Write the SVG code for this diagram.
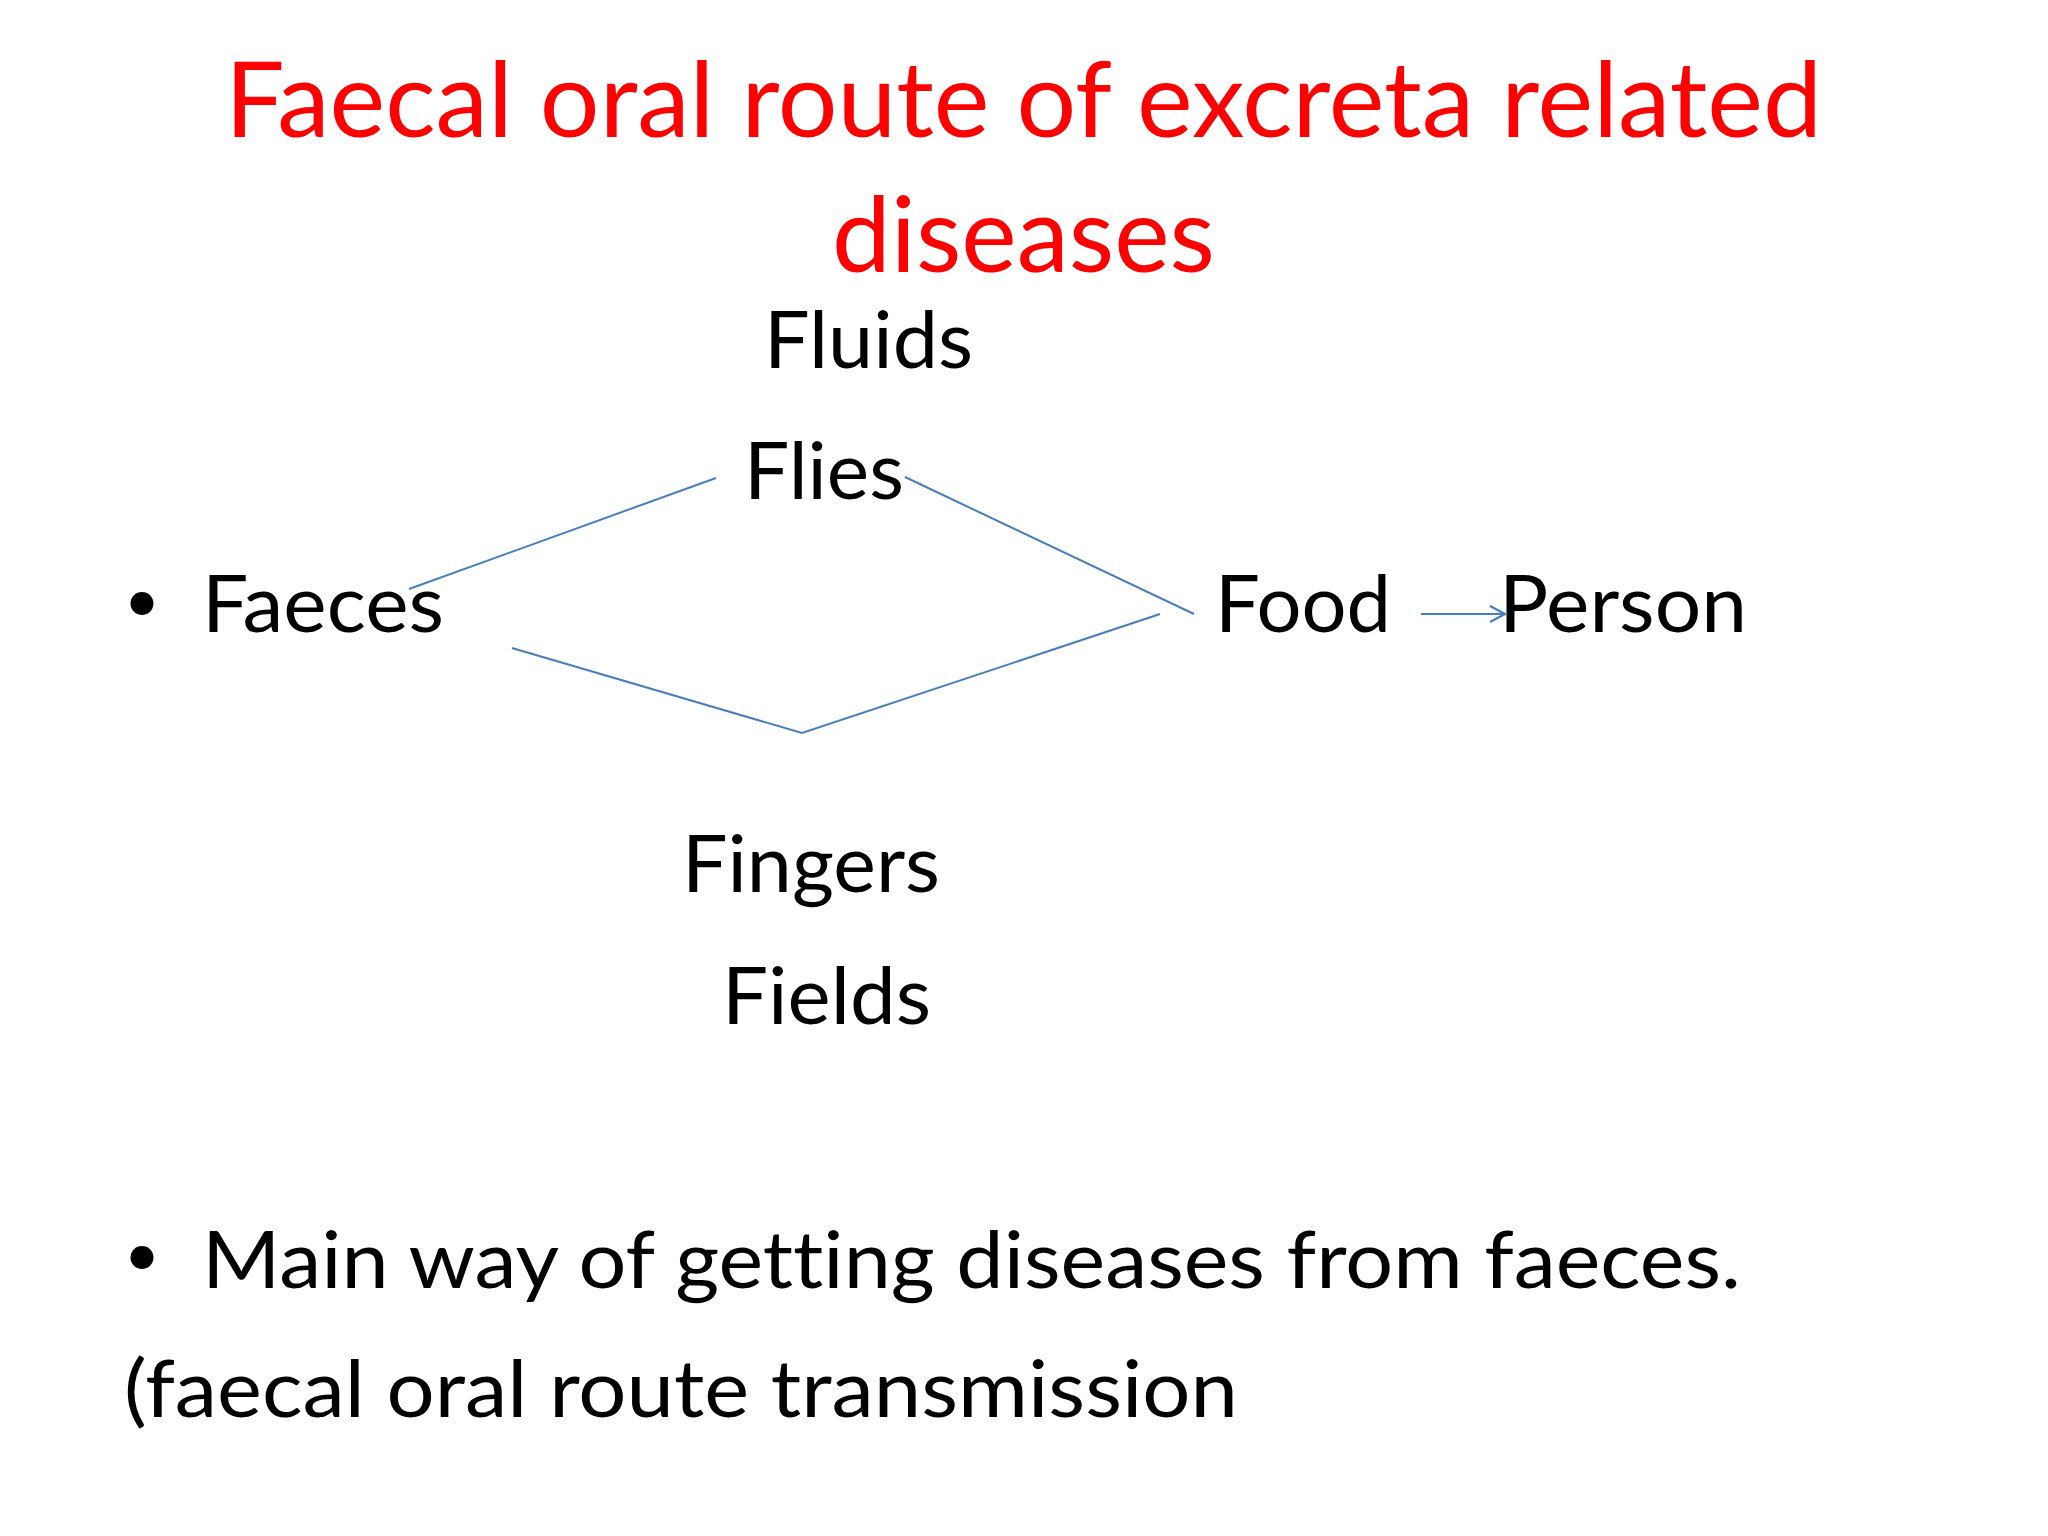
<svg xmlns="http://www.w3.org/2000/svg" width="2048" height="1536" viewBox="0 0 2048 1536">
<style>
.t{font-family:Lato,"Open Sans","Liberation Sans",sans-serif;font-variant-ligatures:none;}
.title{fill:#FF0000;font-size:104px;}
.body{fill:#000000;font-size:80px;}
.bul{fill:#000000;font-size:62px;}
.ln{stroke:#4A7EBB;stroke-width:2;fill:none;}
</style>
<defs>
<marker id="arr" viewBox="0 0 20 20" refX="19" refY="10" markerWidth="20" markerHeight="20" markerUnits="userSpaceOnUse" orient="auto">
<path d="M4,2 L19,10 L4,18" fill="none" stroke="#4A7EBB" stroke-width="2.2"/>
</marker>
</defs>
<rect width="2048" height="1536" fill="#FFFFFF"/>
<g id="title">
<text class="t title" x="225" y="137" textLength="1597" lengthAdjust="spacingAndGlyphs">Faecal oral route of excreta related</text>
<text class="t title" x="832" y="272" textLength="383" lengthAdjust="spacingAndGlyphs">diseases</text>
</g>
<g id="connectors">
<line class="ln" x1="409" y1="589" x2="716" y2="478"/>
<line class="ln" x1="905" y1="477" x2="1194" y2="614"/>
<polyline class="ln" points="512,648 802,733 1160,614"/>
<line class="ln" x1="1421" y1="614" x2="1505" y2="614" marker-end="url(#arr)"/>
</g>
<g id="node-fluids"><text class="t body" x="764" y="368" textLength="209" lengthAdjust="spacingAndGlyphs">Fluids</text></g>
<g id="node-flies"><text class="t body" x="744" y="499" textLength="160" lengthAdjust="spacingAndGlyphs">Flies</text></g>
<g id="node-faeces"><text class="t bul" x="124" y="622">•</text><text class="t body" x="202" y="632" textLength="242" lengthAdjust="spacingAndGlyphs">Faeces</text></g>
<g id="node-food"><text class="t body" x="1215" y="632" textLength="176" lengthAdjust="spacingAndGlyphs">Food</text></g>
<g id="node-person"><text class="t body" x="1499" y="632" textLength="248" lengthAdjust="spacingAndGlyphs">Person</text></g>
<g id="node-fingers"><text class="t body" x="682" y="892" textLength="258" lengthAdjust="spacingAndGlyphs">Fingers</text></g>
<g id="node-fields"><text class="t body" x="722" y="1024" textLength="209" lengthAdjust="spacingAndGlyphs">Fields</text></g>
<g id="notes">
<text class="t bul" x="124" y="1276">•</text>
<text class="t body" x="202" y="1288" textLength="1539" lengthAdjust="spacingAndGlyphs">Main way of getting diseases from faeces.</text>
<text class="t body" x="124" y="1417" textLength="1114" lengthAdjust="spacingAndGlyphs">(faecal oral route transmission</text>
</g>
</svg>
